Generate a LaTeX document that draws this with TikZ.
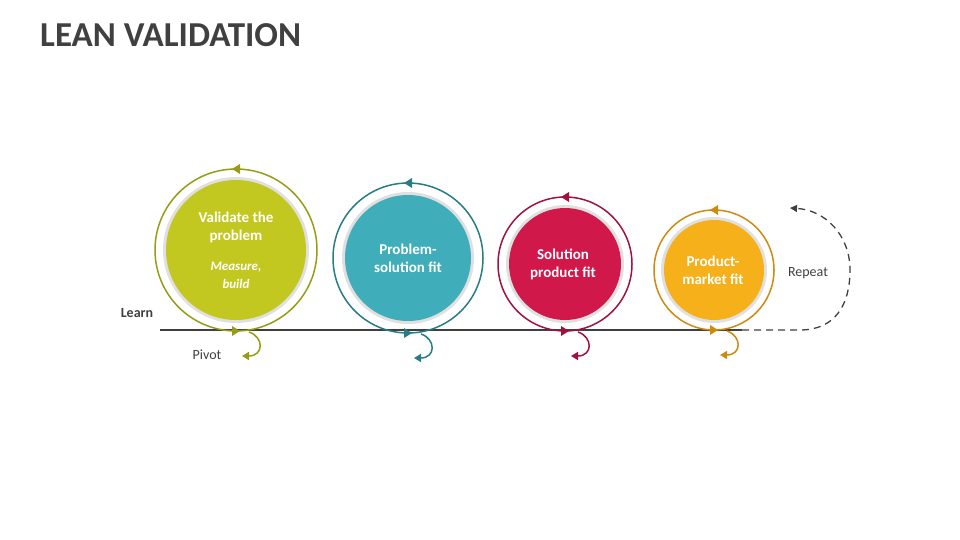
\documentclass[tikz,border=0pt]{standalone}
\usepackage{fontspec}
\setmainfont{Carlito}
\usetikzlibrary{arrows.meta}
\definecolor{ringA}{RGB}{150,156,22}\definecolor{fillA}{RGB}{194,200,31}
\definecolor{ringB}{RGB}{40,125,133}\definecolor{fillB}{RGB}{64,174,186}
\definecolor{ringC}{RGB}{160,18,62}\definecolor{fillC}{RGB}{208,24,75}
\definecolor{ringD}{RGB}{204,138,16}\definecolor{fillD}{RGB}{246,176,25}
\definecolor{dk}{RGB}{64,64,64}
\tikzset{ring/.style={line width=1.5pt},
 disc/.style={circle,inner sep=0pt,text=white,font=\bfseries\fontsize{15}{18}\selectfont,align=center},
 tip/.style={-{Triangle[length=7pt,width=7pt]}},
 lbl/.style={text=dk,font=\fontsize{14}{16}\selectfont}}
\begin{document}
\begin{tikzpicture}[x=1pt,y=-1pt]
\useasboundingbox (0,0) rectangle (960,540);
\node[anchor=west,text=dk,font=\bfseries\fontsize{35}{40}\selectfont,inner sep=0pt] (title) at (40,35) {LEAN VALIDATION};
\coordinate (L0) at (160,330);
\coordinate (L1) at (742,330);
\draw[dk,line width=1.3pt] (L0) -- (L1);
\coordinate (R1) at (790,208);
\draw[dk,line width=1.3pt,dash pattern=on 7pt off 5pt,tip] (L1) -- (800,330) .. controls (835,330) and (850,305) .. (850,270) .. controls (850,235) and (825,210) .. (R1);
\node[lbl] (rep) at (808,273) {Repeat};
\node[lbl,font=\bfseries\fontsize{14}{16}\selectfont] (learn) at (137,313) {Learn};
\node[lbl] (piv) at (207,355) {Pivot};
\foreach \n/\cx/\cy/\ro/\ri/\rc/\fc in {a/236/250/81/70/ringA/fillA, b/408/258/75/63/ringB/fillB, c/565/264/67/56/ringC/fillC, d/714/270/60/50/ringD/fillD}{
  \coordinate (\n c) at (\cx,\cy);
  \fill[black!12] (\cx,\cy) circle (\ri+3);
  \fill[\fc] (\cx,\cy) circle (\ri);
  \draw[ring,\rc] (\cx,\cy) circle (\ro);
  \fill[\rc] (\cx-4,\cy-\ro) -- (\cx+4,\cy-\ro-5) -- (\cx+4,\cy-\ro+5) -- cycle;
  \fill[\rc] (\cx+4,\cy+\ro) -- (\cx-4,\cy+\ro-5) -- (\cx-4,\cy+\ro+5) -- cycle;
  \draw[ring,\rc,-{Triangle[length=7pt,width=8pt]}] (\cx+13,\cy+\ro+1) .. controls (\cx+28,\cy+\ro+6) and (\cx+28,\cy+\ro+25) .. (\cx+6,\cy+\ro+25);
}
\node[disc] (ta) at (236,250) {Validate the\\problem\\[12pt]\itshape\fontsize{13}{16}\selectfont Measure,\\\itshape\fontsize{13}{16}\selectfont build};
\node[disc] (tb) at (408,258) {Problem-\\solution fit};
\node[disc] (tc) at (563,264) {Solution\\product fit};
\node[disc] (td) at (713,270) {Product-\\market fit};
\end{tikzpicture}
\end{document}
